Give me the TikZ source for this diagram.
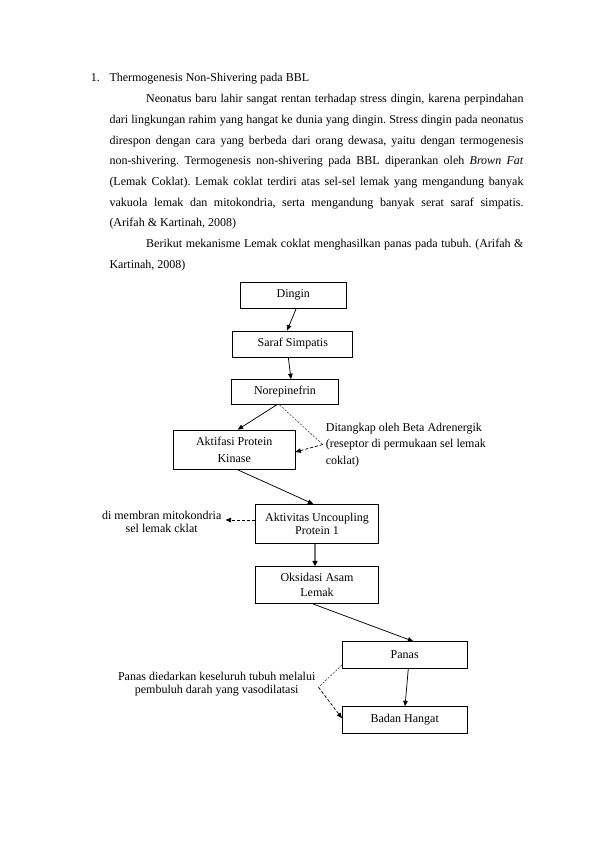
\documentclass[tikz,border=0pt]{standalone}
\usepackage{fontspec}
\setmainfont{Liberation Serif}
\usetikzlibrary{arrows.meta,calc}
\begin{document}
\frenchspacing
\begin{tikzpicture}[x=1pt,y=-1pt,
  box/.style={draw=black,line width=0.7pt,inner sep=0pt,align=center,font=\fontsize{12}{13.4}\selectfont},
  para/.style={anchor=base west,inner sep=0pt,font=\fontsize{12}{14}\selectfont},
  note/.style={inner sep=0pt,font=\fontsize{12}{13.4}\selectfont},
  arr/.style={line width=0.75pt,-{Triangle[length=5.5pt,width=4.5pt]}},
  darr/.style={line width=0.75pt,dash pattern=on 3pt off 2pt,-{Triangle[length=5.5pt,width=4.5pt]}},
  fine/.style={line width=0.5pt,draw=black!85,dash pattern=on 2pt off 1.5pt},
  garr/.style={line width=1.5pt,draw=black!55,-{Triangle[length=5.5pt,width=5pt,color=black]}}]
\fill[white] (0,0) rectangle (595,842);
\useasboundingbox (0,0) rectangle (595,842);
% ---- text ----
\node[para] (num) at (90.7,82) {1.};
\node[para] (title) at (109.3,82) {Thermogenesis Non-Shivering pada BBL};
\node[para] (l2) at (146,102.7) {\makebox[377.3pt][s]{Neonatus baru lahir sangat rentan terhadap stress dingin, karena perpindahan}};
\node[para] (l3) at (109.3,123.4) {\makebox[414pt][s]{dari lingkungan rahim yang hangat ke dunia yang dingin. Stress dingin pada neonatus}};
\node[para] (l4) at (109.3,144.1) {\makebox[414pt][s]{direspon dengan cara yang berbeda dari orang dewasa, yaitu dengan termogenesis}};
\node[para] (l5) at (109.3,164.8) {\makebox[414pt][s]{non-shivering. Termogenesis non-shivering pada BBL diperankan oleh \textit{Brown Fat}}};
\node[para] (l6) at (109.3,185.5) {\makebox[414pt][s]{(Lemak Coklat). Lemak coklat terdiri atas sel-sel lemak yang mengandung banyak}};
\node[para] (l7) at (109.3,206.2) {\makebox[414pt][s]{vakuola lemak dan mitokondria, serta mengandung banyak serat saraf simpatis.}};
\node[para] (l8) at (109.3,226.9) {(Arifah \& Kartinah, 2008)};
\node[para] (l9) at (146,247.6) {\makebox[377.3pt][s]{Berikut mekanisme Lemak coklat menghasilkan panas pada tubuh. (Arifah \&}};
\node[para] (l10) at (109.3,268.3) {Kartinah, 2008)};
% ---- boxes ----
\node[box,minimum width=106.7pt,minimum height=26.7pt] (dingin) at (293.3,295.3) {Dingin};
\node[box,minimum width=120pt,minimum height=26pt] (saraf) at (292.8,344) {Saraf Simpatis};
\node[box,minimum width=106.7pt,minimum height=25pt] (nore) at (285,392) {Norepinefrin};
\node[box,minimum width=121.7pt,minimum height=39pt,font=\fontsize{12}{16.7}\selectfont] (pk) at (234.2,449.5) {Aktifasi Protein\\Kinase};
\node[box,minimum width=122.7pt,minimum height=39pt] (ucp) at (317,523.8) {Aktivitas Uncoupling\\Protein 1};
\node[box,minimum width=122.7pt,minimum height=37pt,font=\fontsize{12}{15}\selectfont] (oks) at (317,585.2) {Oksidasi Asam\\Lemak};
\node[box,minimum width=124.7pt,minimum height=26.7pt] (panas) at (404.7,655) {Panas};
\node[box,minimum width=124.7pt,minimum height=26.7pt] (badan) at (404.7,720) {Badan Hangat};
% ---- labels ----
\node[note,anchor=west,align=left,font=\fontsize{12}{16.7}\selectfont] (beta) at (325.7,445) {Ditangkap oleh Beta Adrenergik\\(reseptor di permukaan sel lemak\\coklat)};
\node[note,align=center] (mito) at (161.7,522) {di membran mitokondria\\sel lemak cklat};
\node[note,align=center] (vaso) at (216.7,683.9) {Panas diedarkan keseluruh tubuh melalui\\pembuluh darah yang vasodilatasi};
% ---- connectors ----
\draw[arr] ($(dingin.south)+(2.7,0)$) -- ($(saraf.north)+(-5.8,0)$);
\draw[arr] ($(saraf.south)+(-4.5,0)$) -- ($(nore.north)+(6,0)$);
\draw[arr] ($(nore.south)+(-8.3,0)$) -- ($(pk.north)+(3.5,0)$);
\coordinate (v1) at ($(beta.west)+(-3,-0.5)$);
\draw[fine] ($(nore.south)+(-5.5,0)$) -- (v1);
\draw[darr] (v1) -- ($(pk.east)+(0,2.5)$);
\draw[arr] ($(pk.south)+(2.5,0)$) -- ($(ucp.north)+(-3.7,0)$);
\draw[darr] ($(ucp.west)+(0,-3.8)$) -- ($(mito.east)+(4,-2)$);
\draw[garr] ($(ucp.south)+(-2,0)$) -- ($(oks.north)+(-2,0)$);
\draw[arr] ($(oks.south)+(-3.7,0)$) -- ($(panas.north)+(8.6,0)$);
\draw[arr] ($(panas.south)+(3.6,0)$) -- ($(badan.north)+(0.3,0)$);
\coordinate (v2) at ($(vaso.east)+(3,3.4)$);
\draw[fine] ($(panas.west)+(0,10)$) -- (v2);
\draw[darr] (v2) -- ($(badan.west)+(0,-1.7)$);
\end{tikzpicture}
\end{document}
